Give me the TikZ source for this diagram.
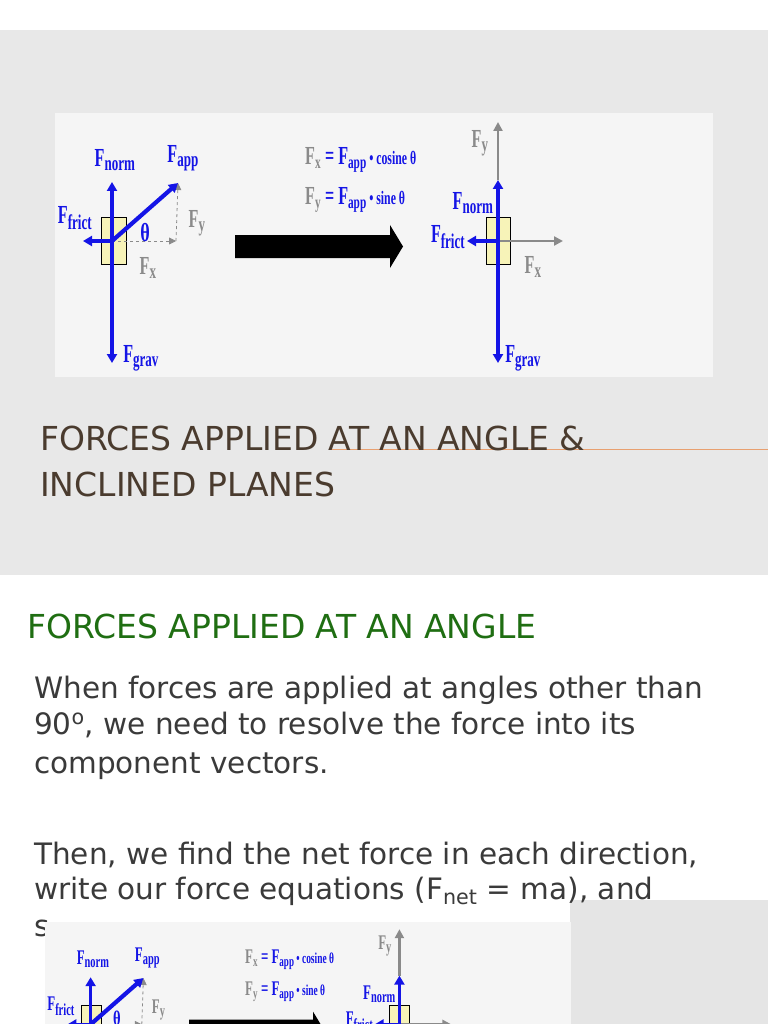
\documentclass[tikz,border=0pt]{standalone}
\usepackage{fontspec}
\setmainfont{DejaVu Sans}
\newfontfamily\dgf{Liberation Serif}
\usetikzlibrary{arrows.meta}
\definecolor{fblue}{HTML}{1414E6}
\definecolor{fgray}{HTML}{8A8A8A}
\definecolor{titlec}{HTML}{4A3B2E}
\definecolor{greenc}{HTML}{1F6E12}
\definecolor{bodyc}{HTML}{3A3A3A}
\definecolor{blockc}{HTML}{F7F3B8}
\definecolor{orangec}{HTML}{E8A070}
\tikzset{
  blue arrow/.style={draw=fblue,line width=3.4pt,-{Triangle[length=9pt,width=10pt]}},
  gray arrow/.style={draw=fgray,line width=2.8pt,-{Triangle[length=9pt,width=9pt]}},
  dash arrow/.style={draw=fgray,dashed,line width=0.8pt,-{Triangle[length=7pt,width=7pt]}},
  lbl/.style={font=\dgf\bfseries\fontsize{26}{26}\selectfont,inner sep=0pt},
  body/.style={anchor=base west,inner sep=0pt,text=bodyc,font=\fontsize{29.5}{32}\selectfont},
  ttl/.style={anchor=base west,inner sep=0pt,font=\fontsize{33}{34}\selectfont},
}
\newcommand{\Fl}[2]{\scalebox{0.62}[1]{F\textsubscript{\fontsize{21}{21}\selectfont #2}}}
\newcommand{\fbd}[4]{% prefix, x, y, scale
\begin{scope}[shift={(#2,#3)},scale=#4,every node/.append style={scale=#4}]
 \fill[white!96!black] (0,0) rectangle (658,264);
 % left diagram
 \draw[fill=blockc,line width=0.8pt] (46,104) rectangle (71,151);
 \coordinate (#1c) at (57,128);
 \coordinate (#1up) at (57,69);
 \coordinate (#1dn) at (57,250);
 \coordinate (#1lf) at (28,128);
 \coordinate (#1ap) at (123,70);
 \coordinate (#1fx) at (121,128);
 \draw[dash arrow] (#1c) -- (#1fx);
 \draw[dash arrow] (#1fx) -- (#1ap);
 \draw[blue arrow] (#1c) -- (#1up);
 \draw[blue arrow] (#1c) -- (#1dn);
 \draw[blue arrow] (#1c) -- (#1lf);
 \draw[blue arrow,line width=4.2pt] (#1c) -- (#1ap);
 \node[lbl,text=fblue] (#1th) at (90,120) {\scalebox{0.7}[1]{θ}};
 \node[lbl,text=fblue] (#1fn) at (60,47) {\Fl{F}{norm}};
 \node[lbl,text=fblue] (#1fa) at (128,45) {\Fl{F}{app}};
 \node[lbl,text=fblue] (#1ff) at (20,105) {\Fl{F}{frict}};
 \node[lbl,text=fgray] (#1fy) at (142,110) {\Fl{F}{y}};
 \node[lbl,text=fgray] (#1fxl) at (93,155) {\Fl{F}{x}};
 \node[lbl,text=fblue] (#1fg) at (86,245) {\Fl{F}{grav}};
 % equations
 \node[lbl,anchor=west] (#1e1) at (250,47) {\scalebox{0.62}[1]{\color{fgray}F\textsubscript{x} \color{fblue}= F\textsubscript{app}\,{\fontsize{19}{19}\selectfont• cosine θ}}};
 \node[lbl,anchor=west] (#1e2) at (250,87) {\scalebox{0.62}[1]{\color{fgray}F\textsubscript{y} \color{fblue}= F\textsubscript{app}\,{\fontsize{19}{19}\selectfont• sine θ}}};
 % big arrow
 \fill[black] (180,122) -- (335,122) -- (335,112) -- (348,133.5) -- (335,155) -- (335,145) -- (180,145) -- cycle;
 % right diagram
 \draw[fill=blockc,line width=0.8pt] (431,104) rectangle (455,151);
 \coordinate (#1rc) at (443,128);
 \coordinate (#1rup) at (443,67);
 \coordinate (#1rtop) at (443,9);
 \coordinate (#1rdn) at (443,250);
 \coordinate (#1rlf) at (412,128);
 \coordinate (#1rrt) at (508,128);
 \draw[gray arrow] (#1rup) -- (#1rtop);
 \draw[gray arrow] (#1rc) -- (#1rrt);
 \draw[blue arrow] (#1rc) -- (#1rup);
 \draw[blue arrow] (#1rc) -- (#1rdn);
 \draw[blue arrow] (#1rc) -- (#1rlf);
 \node[lbl,text=fgray] (#1rfy) at (425,30) {\Fl{F}{y}};
 \node[lbl,text=fblue] (#1rfn) at (418,90) {\Fl{F}{norm}};
 \node[lbl,text=fblue] (#1rff) at (393,124) {\Fl{F}{frict}};
 \node[lbl,text=fgray] (#1rfx) at (478,154) {\Fl{F}{x}};
 \node[lbl,text=fblue] (#1rfg) at (468,245) {\Fl{F}{grav}};
\end{scope}}
\begin{document}
\begin{tikzpicture}[x=1pt,y=-1pt]
\useasboundingbox (0,0) rectangle (768,1024);
% slide 1 background
\fill[white!91!black] (0,0) rectangle (768,575);
\fill[white] (0,0) rectangle (768,30);
% slide 2 background
\fill[white] (0,575) rectangle (768,1024);
\fill[white!90!black] (570,900) rectangle (768,1024);
\fbd{a}{55}{113}{1}
\draw[draw=orangec,line width=0.8pt] (330,449) -- (768,449);
\node[ttl,text=titlec] (t1) at (40,450) {FORCES APPLIED AT AN ANGLE \&};
\node[ttl,text=titlec] (t2) at (40,496) {INCLINED PLANES};
\node[ttl,text=greenc] (h) at (27,638) {FORCES APPLIED AT AN ANGLE};
\node[body] (b1) at (34,698) {When forces are applied at angles other than};
\node[body] (b2) at (34,734) {90\textsuperscript{o}, we need to resolve the force into its};
\node[body] (b3) at (34,773) {component vectors.};
\node[body] (b4) at (34,864) {Then, we find the net force in each direction,};
\node[body] (b5) at (34,899) {write our force equations (F\textsubscript{net} = ma), and};
\node[body] (b6) at (34,936) {s};
\fbd{b}{45}{922}{0.8}
\end{tikzpicture}
\end{document}
